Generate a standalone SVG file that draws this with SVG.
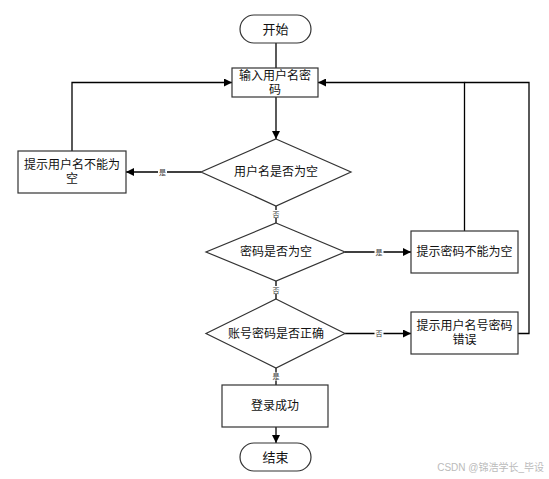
<svg xmlns="http://www.w3.org/2000/svg" width="549" height="479" viewBox="0 0 549 479">
<style>
.node{fill:#fff;stroke:#333;stroke-width:1.2}
.t{font-family:"Liberation Sans","Noto Sans CJK SC",sans-serif;font-size:12px;fill:#111;text-anchor:middle;dominant-baseline:central}
.tt{font-size:13px}
.c{fill:none;stroke:#000;stroke-width:1.3}
.lb{font-family:"Liberation Sans","Noto Sans CJK SC",sans-serif;font-size:7px;fill:#333;text-anchor:middle;dominant-baseline:central}
.lbg{fill:#fff}
</style>
<defs>
<marker id="ah" viewBox="0 0 10 10" refX="10" refY="5" markerWidth="8" markerHeight="8" markerUnits="userSpaceOnUse" orient="auto">
<path d="M0,0 L10,5 L0,10 z" fill="#000"/>
</marker>
</defs>
<rect width="549" height="479" fill="#fff"/>
<g id="connectors">
<path class="c" d="M276,43 V68"/>
<path class="c" d="M276,97 V139" marker-end="url(#ah)"/>
<path class="c" d="M201,172 H126" marker-end="url(#ah)"/>
<path class="c" d="M72,151 V82.5 H232" marker-end="url(#ah)"/>
<path class="c" d="M276,206 V223"/>
<path class="c" d="M345,252 H411" marker-end="url(#ah)"/>
<path class="c" d="M464.5,231 V82.5 H318" marker-end="url(#ah)"/>
<path class="c" d="M276,281 V299"/>
<path class="c" d="M345,333.5 H411" marker-end="url(#ah)"/>
<path class="c" d="M518,333.5 H529 V82.5 H464.5"/>
<path class="c" d="M276,368 V385"/>
<path class="c" d="M276,427 V443" marker-end="url(#ah)"/>
<rect class="lbg" x="158" y="168" width="9" height="8"/>
<text class="lb" x="162.5" y="172">是</text>
<rect class="lbg" x="271.5" y="210" width="9" height="8"/>
<text class="lb" x="276" y="214">否</text>
<rect class="lbg" x="374.5" y="248" width="9" height="8"/>
<text class="lb" x="379" y="252">是</text>
<rect class="lbg" x="271.5" y="286" width="9" height="8"/>
<text class="lb" x="276" y="290">否</text>
<rect class="lbg" x="374.5" y="329.5" width="9" height="8"/>
<text class="lb" x="379" y="333.5">否</text>
<rect class="lbg" x="271.5" y="372.5" width="9" height="8"/>
<text class="lb" x="276" y="376.5">是</text>
</g>
<g id="start">
<rect class="node" x="240" y="15" width="71" height="28" rx="14"/>
<text class="t tt" x="275.5" y="29">开始</text>
</g>
<g id="input">
<rect class="node" x="232" y="68" width="86" height="29"/>
<text class="t" x="275" y="75.5">输入用户名密</text>
<text class="t" x="275" y="90">码</text>
</g>
<g id="check-user">
<polygon class="node" points="276,139 351,172 276,206 201,172"/>
<text class="t" x="276" y="172">用户名是否为空</text>
</g>
<g id="user-empty">
<rect class="node" x="18" y="151" width="108" height="42"/>
<text class="t" x="72" y="165">提示用户名不能为</text>
<text class="t" x="72" y="179">空</text>
</g>
<g id="check-pwd">
<polygon class="node" points="276,223 345,252 276,281 206,252"/>
<text class="t" x="276" y="252">密码是否为空</text>
</g>
<g id="pwd-empty">
<rect class="node" x="411" y="231" width="107" height="42"/>
<text class="t" x="464.5" y="252">提示密码不能为空</text>
</g>
<g id="check-auth">
<polygon class="node" points="276,299 345,333.5 276,368 206,333.5"/>
<text class="t" x="276" y="333.5">账号密码是否正确</text>
</g>
<g id="auth-error">
<rect class="node" x="411" y="312" width="107" height="42"/>
<text class="t" x="464.5" y="326">提示用户名号密码</text>
<text class="t" x="464.5" y="339.5">错误</text>
</g>
<g id="success">
<rect class="node" x="222" y="385" width="106" height="42"/>
<text class="t" x="275" y="406">登录成功</text>
</g>
<g id="end">
<rect class="node" x="240" y="443" width="71" height="28" rx="14"/>
<text class="t tt" x="275.5" y="457">结束</text>
</g>
<text x="544" y="467" font-family="Liberation Sans,Noto Sans CJK SC,sans-serif" font-size="10" fill="#bbb" text-anchor="end" dominant-baseline="central">CSDN @锦浩学长_毕设</text>
</svg>
